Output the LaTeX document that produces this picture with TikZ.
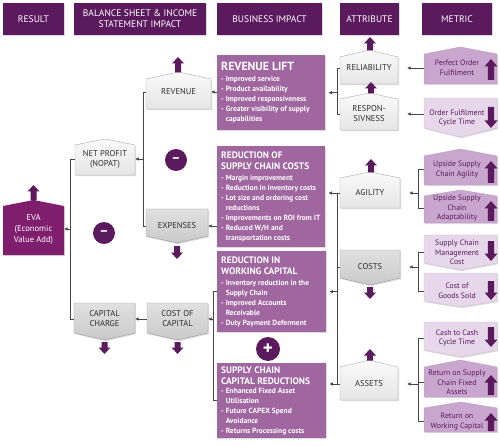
\documentclass[tikz,border=0pt]{standalone}
\usepackage{fontspec}
\setmainfont{PT Sans}
\usetikzlibrary{arrows.meta,shadows,calc}
\pgfdeclarelayer{bg}
\pgfsetlayers{bg,main}
\definecolor{hdr}{RGB}{92,26,94}
\definecolor{evac}{RGB}{126,30,108}
\definecolor{biz}{RGB}{160,102,160}
\definecolor{metup}{RGB}{200,166,206}
\definecolor{metdn}{RGB}{230,215,235}
\definecolor{linec}{RGB}{70,70,70}
\definecolor{gtxt}{RGB}{45,45,45}
\tikzset{
 shd/.style={drop shadow={opacity=0.28,shadow xshift=1.2pt,shadow yshift=-1.2pt}},
 hdrbox/.style={fill=hdr, text=white, font=\fontsize{9.5}{10.7}\selectfont, align=center, inner sep=0pt, shd},
 upg/.style={top color=white!98!black, bottom color=white!90!black, draw=white!68!black, line width=0.4pt, shd},
 dng/.style={top color=white!88!black, bottom color=white!79!black, draw=white!62!black, line width=0.4pt, shd},
 mup/.style={fill=metup, draw=hdr!40, line width=0.4pt, shd},
 mdn/.style={fill=metdn, draw=hdr!28, line width=0.4pt, shd},
 evash/.style={fill=evac, shd},
 gtext/.style={text=gtxt, font=\fontsize{8.5}{10}\selectfont, align=center, inner sep=0pt, minimum height=10pt},
 evatext/.style={text=white, font=\fontsize{8.6}{11}\selectfont, align=center, inner sep=0pt},
 mtext/.style={text=hdr, font=\fontsize{7.8}{9.5}\selectfont, align=center, inner sep=0pt, minimum width=66pt, minimum height=10pt},
 bizbox/.style={fill=biz, inner sep=0pt, anchor=north west, shd},
 biztext/.style={text=white, align=left, anchor=west, inner xsep=4pt, inner ysep=0pt, font=\fontsize{7.5}{10}\selectfont\bfseries},
 sign/.style={circle, fill=hdr, text=white, inner sep=0pt, minimum size=22pt},
 fat/.style={fill=hdr},
 ln/.style={draw=linec, line width=0.6pt},
 arr/.style={ln, -{Latex[length=3.4pt,width=3.4pt]}},
}
\newcommand\UpPath[6]{\path[#1] (#2,#5) -- ({(#2+#3)/2},#4) -- (#3,#5) -- (#3,#6) -- (#2,#6) -- cycle;}
\newcommand\DownPath[6]{\path[#1] (#2,#4) -- (#3,#4) -- (#3,#5) -- ({(#2+#3)/2},#6) -- (#2,#5) -- cycle;}
% x, ytip, ybase, head half width, head length, shaft half width
\newcommand\FatU[6]{\fill[fat] (#1,#2) -- ({#1+#4},{#2+#5}) -- ({#1+#6},{#2+#5}) -- ({#1+#6},#3) -- ({#1-#6},#3) -- ({#1-#6},{#2+#5}) -- ({#1-#4},{#2+#5}) -- cycle;}
\newcommand\FatD[6]{\fill[fat] (#1,#2) -- ({#1+#4},{#2-#5}) -- ({#1+#6},{#2-#5}) -- ({#1+#6},#3) -- ({#1-#6},#3) -- ({#1-#6},{#2-#5}) -- ({#1-#4},{#2-#5}) -- cycle;}
\newcommand\SmUp[3]{\FatU{#1}{#2}{#3}{6}{6.5}{3}}
\newcommand\SmDn[3]{\FatD{#1}{#3}{#2}{6}{6.5}{3}}
\newcommand\MUp[3]{\FatU{#1}{#2}{#3}{6.5}{7.5}{3.2}}
\newcommand\MDn[3]{\FatD{#1}{#3}{#2}{6.5}{7.5}{3.2}}
\newcommand\bizT[1]{{\fontsize{9.4}{11}\selectfont\bfseries #1}}
\newcommand\hi{\hphantom{- }}
\begin{document}
\begin{tikzpicture}[x=1pt,y=-1pt]
\useasboundingbox (0,0) rectangle (500,446);
% headers
\node[hdrbox, minimum width=61pt, minimum height=32pt] (hres) at (33.5,19) {RESULT};
\node[hdrbox, minimum width=132pt, minimum height=32pt] (hbal) at (140,19) {BALANCE SHEET \& INCOME\\STATEMENT IMPACT};
\node[hdrbox, minimum width=105pt, minimum height=32pt] (hbus) at (269.5,19) {BUSINESS IMPACT};
\node[hdrbox, minimum width=59pt, minimum height=32pt] (hatt) at (369.5,19) {ATTRIBUTE};
\node[hdrbox, minimum width=70pt, minimum height=32pt] (hmet) at (457,19) {METRIC};

% result
\UpPath{evash}{3}{64}{200}{206}{255}
\node[evatext, minimum width=61pt] (eva) at (33.5,229) {EVA\\(Economic\\Value Add)};
\SmUp{33.5}{185}{200.5}

% balance sheet column
\UpPath{upg}{75}{135}{139}{145}{175}
\node[gtext, minimum width=60pt] (np) at (105,159) {NET PROFIT\\(NOPAT)};
\UpPath{upg}{146}{211}{72}{79}{109}
\node[gtext, minimum width=65pt] (rev) at (178.5,92) {REVENUE};
\SmUp{178}{57}{72.5}
\DownPath{dng}{146}{208}{209}{236}{243}
\node[gtext, minimum width=62pt] (exp) at (177,226) {EXPENSES};
\SmDn{177}{246}{259}
\DownPath{dng}{74}{135}{303}{333}{340}
\node[gtext, minimum width=61pt] (cc) at (104.5,319) {CAPITAL\\CHARGE};
\SmDn{104.5}{342}{354}
\DownPath{dng}{147}{208}{303}{333}{340}
\node[gtext, minimum width=61pt] (coc) at (177.5,319) {COST OF\\CAPITAL};
\SmDn{177.5}{342}{354}
\node[sign, font=\bfseries\fontsize{14}{14}\selectfont] (minusA) at (176,160) {--};
\node[sign, font=\bfseries\fontsize{14}{14}\selectfont] (minusB) at (104,233) {--};
\node[sign, minimum size=24pt, font=\bfseries\fontsize{19}{19}\selectfont] (plus) at (268,349) {+};

% business impact
\node[bizbox, minimum width=108pt, minimum height=75pt] (rl) at (217,55) {};
\node[biztext] (rlT) at (rl.west) {{\fontsize{11.8}{12}\selectfont\bfseries REVENUE LIFT}\\[0.5pt]- Improved service\\- Product availability\\- Improved responsiveness\\- Greater visibility of supply\\\hi capabilities};
\node[bizbox, minimum width=108pt, minimum height=101pt] (rsc) at (217,146) {};
\node[biztext] (rscT) at (rsc.west) {\bizT{REDUCTION OF}\\[1pt]\bizT{SUPPLY CHAIN COSTS}\\[0.5pt]- Margin improvement\\- Reduction in inventory costs\\- Lot size and ordering cost\\\hi reductions\\- Improvements on ROI from IT\\- Reduced W/H and\\\hi transportation costs};
\node[bizbox, minimum width=109pt, minimum height=81pt] (rwc) at (217,251) {};
\node[biztext] (rwcT) at (rwc.west) {\bizT{REDUCTION IN}\\[1pt]\bizT{WORKING CAPITAL}\\[0.5pt]- Inventory reduction in the\\\hi Supply Chain\\- Improved Accounts\\\hi Receivable\\- Duty Payment Deferment};
\node[bizbox, minimum width=109pt, minimum height=75pt] (scr) at (217,363) {};
\node[biztext] (scrT) at (scr.west) {\bizT{SUPPLY CHAIN}\\[1pt]\bizT{CAPITAL REDUCTIONS}\\[-0.5pt]- Enhanced Fixed Asset\\\hi Utilisation\\- Future CAPEX Spend\\\hi Avoidance\\- Returns Processing costs};

% attributes
\UpPath{upg}{340}{398}{50}{57}{84}
\node[gtext, minimum width=58pt] (rel) at (369,68) {RELIABILITY};
\SmUp{370}{37}{50.5}
\UpPath{upg}{340}{398}{93}{99}{130}
\node[gtext, minimum width=58pt] (resp) at (369,114) {RESPON-\\SIVNESS};
\SmUp{371}{82}{93.5}
\UpPath{upg}{340}{400}{172}{178}{208}
\node[gtext, minimum width=60pt] (agi) at (370,193) {AGILITY};
\SmUp{371}{159}{172.5}
\DownPath{dng}{340}{400}{250}{278}{285}
\node[gtext, minimum width=60pt] (costs) at (370,267) {COSTS};
\SmDn{370}{287}{299}
\UpPath{upg}{340}{398}{360}{367}{400}
\node[gtext, minimum width=58pt] (assets) at (369,384) {ASSETS};
\SmUp{370}{349}{360.5}

% metrics
\UpPath{mup}{424}{497}{47}{54}{84}
\node[mtext] (po) at (457,68) {Perfect Order\\Fulfilment};
\MUp{491}{59}{80}
\DownPath{mdn}{424}{497}{98}{128}{137}
\node[mtext] (ofct) at (457,118) {Order Fulfilment\\Cycle Time};
\MDn{491}{107}{128}
\UpPath{mup}{424}{497}{149}{156}{185}
\node[mtext] (usca) at (457,169.5) {Upside Supply\\Chain Agility};
\MUp{491}{161}{183}
\UpPath{mup}{424}{497}{190}{196}{223}
\node[mtext] (uscad) at (457,208.5) {Upside Supply\\Chain\\Adaptability};
\MUp{491}{201}{221}
\DownPath{mdn}{424}{497}{235}{263}{270}
\node[mtext] (scmc) at (457,252.5) {Supply Chain\\Management\\Cost};
\MDn{491}{241}{261}
\DownPath{mdn}{424}{497}{273}{301}{307}
\node[mtext] (cogs) at (457,291) {Cost of\\Goods Sold};
\MDn{491}{281}{300}
\DownPath{mdn}{424}{497}{322}{350}{357}
\node[mtext] (ctc) at (457,338) {Cash to Cash\\Cycle Time};
\MDn{491}{327}{347}
\UpPath{mup}{424}{497}{360}{367}{397}
\node[mtext] (rscfa) at (457,382.5) {Return on Supply\\Chain Fixed\\Assets};
\MUp{491}{375}{395}
\UpPath{mup}{424}{497}{402}{408}{432}
\node[mtext] (rwcm) at (457,421.5) {Return on\\Working Capital};
\MUp{491}{413}{431}

% connectors
\begin{pgfonlayer}{bg}
\coordinate (xa) at (143,0);
\draw[ln] (rev.west) -- (rev.west -| xa) -- (exp.west -| xa) -- (exp.west);
\draw[arr] (xa |- np.east) -- (np.east);
\coordinate (xb) at (70,0);
\draw[ln] (np.west) -- (np.west -| xb) -- (cc.west -| xb) -- (cc.west);
\draw[arr] (xb |- eva.east) -- (eva.east);
\draw[arr] (coc.west) -- (cc.east);
\draw[arr] (rl.west |- rev.east) -- (rev.east);
\draw[arr] (rsc.west |- exp.east) -- (exp.east);
\coordinate (xc) at (213,0);
\draw[ln] (rwc.west) -- (rwc.west -| xc) -- (scr.west -| xc) -- (scr.west);
\draw[arr] (xc |- coc.east) -- (coc.east);
\coordinate (xd) at (337,0);
\draw[ln] (rel.west) -- (rel.west -| xd) -- (resp.west -| xd) -- (resp.west);
\draw[arr, shorten >=3pt] (xd |- rl.east) -- (rl.east);
\draw[ln] (agi.west) -- (agi.west -| xd) -- (assets.west -| xd) -- (assets.west);
\draw[ln] (costs.west) -- (costs.west -| xd);
\draw[arr, shorten >=3pt] (xd |- agi.west) -- (rsc.east |- agi.west);
\draw[arr, shorten >=3pt] (xd |- rwc.east) -- (rwc.east);
\draw[arr, shorten >=3pt] (xd |- assets.west) -- (scr.east |- assets.west);
\coordinate (xe) at (418,0);
\draw[arr, shorten >=9pt] (po.west |- rel.east) -- (rel.east);
\draw[arr, shorten >=9pt] (ofct.west |- resp.east) -- (resp.east);
\draw[ln] (usca.west) -- (usca.west -| xe) -- (uscad.west -| xe) -- (uscad.west);
\draw[arr, shorten >=9pt] (xe |- agi.east) -- (agi.east);
\draw[ln] (scmc.west) -- (scmc.west -| xe) -- (cogs.west -| xe) -- (cogs.west);
\draw[arr, shorten >=9pt] (xe |- costs.east) -- (costs.east);
\draw[ln] (ctc.west) -- (ctc.west -| xe) -- (rwcm.west -| xe) -- (rwcm.west);
\draw[ln] (rscfa.west) -- (rscfa.west -| xe);
\draw[arr, shorten >=9pt] (xe |- assets.east) -- (assets.east);
\end{pgfonlayer}
\end{tikzpicture}
\end{document}
